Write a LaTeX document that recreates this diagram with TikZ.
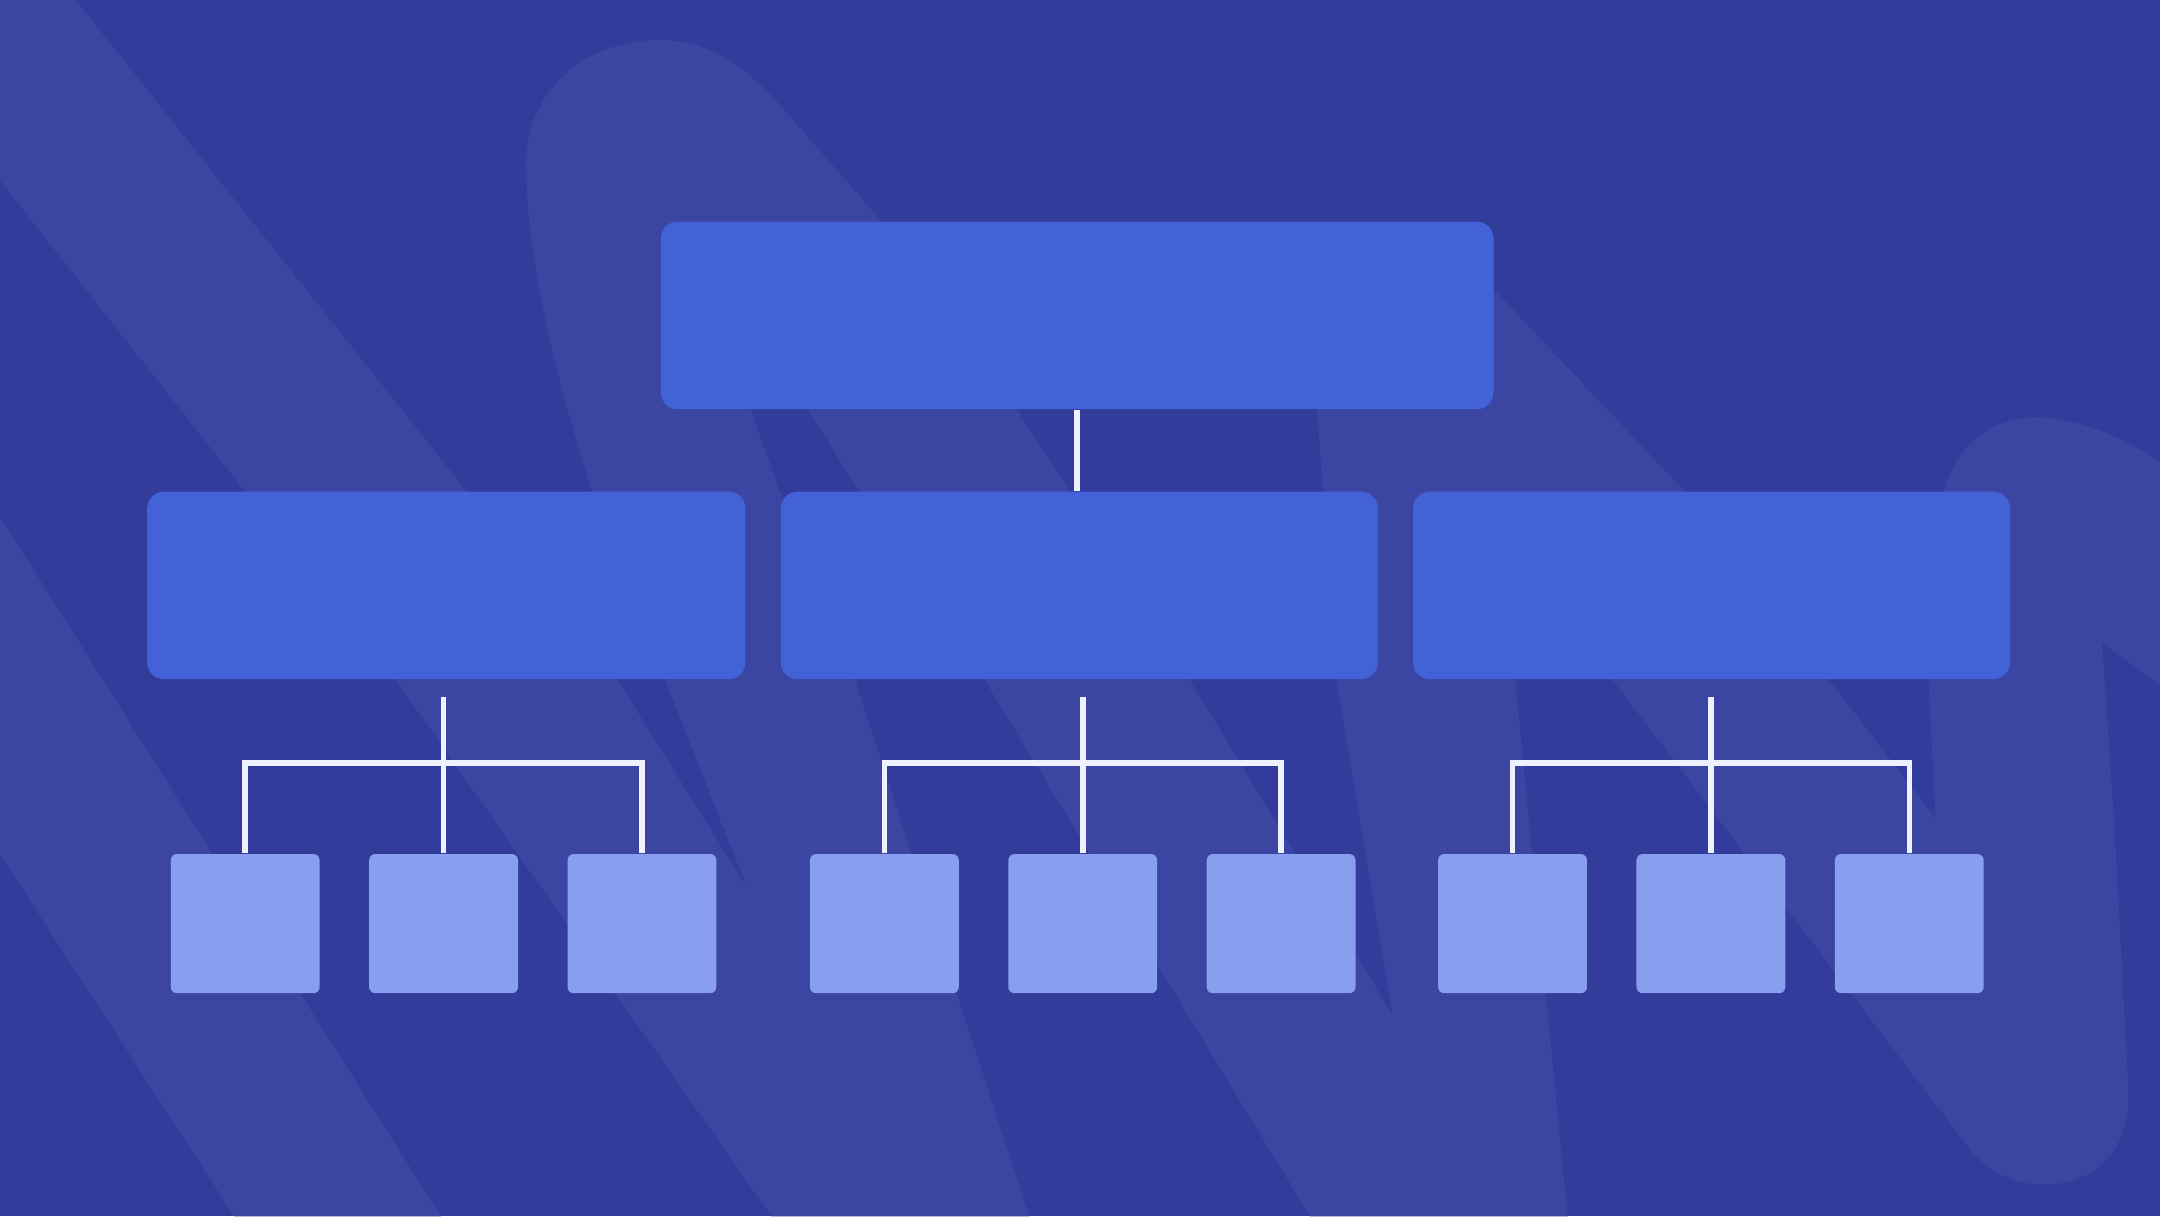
\documentclass[tikz,border=0pt]{standalone}
\definecolor{bg}{HTML}{313C9B}
\definecolor{swoosh}{HTML}{3A46A1}
\definecolor{boxblue}{HTML}{4462D7}
\definecolor{smallblue}{HTML}{889EEF}
\definecolor{linewhite}{HTML}{F0F1FE}
\tikzset{
  bigbox/.style={fill=boxblue, draw=none, rounded corners=0.12cm, inner sep=0pt, minimum height=1.36cm},
  smallbox/.style={fill=smallblue, draw=none, rounded corners=0.045cm, inner sep=0pt, minimum width=1.08cm, minimum height=1.01cm},
  conn/.style={draw=linewhite, line width=0.04cm, line join=miter},
}
\begin{document}
\begin{tikzpicture}[x=0.01cm,y=-0.01cm]
\fill[bg] (0,0) rectangle (1568,883);
\useasboundingbox (0,0) rectangle (1568,883);
\begin{scope}
\clip (0,0) rectangle (1568,883);
% far-left stroke
\fill[swoosh] (0,375) -- (320,883) -- (170,883) -- (0,620) -- cycle;
% main zigzag stroke
\fill[swoosh] (0,0) -- (55,0) -- (339,357) -- (448,493) -- (542,644)
  -- (483,494) -- (430,357)
  .. controls (402,270) and (382,185) .. (382,120)
  .. controls (382,62) and (428,29) .. (479,29)
  .. controls (515,29) and (540,48) .. (566,76)
  -- (642,163) -- (738,297) -- (777,357) -- (864,494) -- (1011,737)
  -- (970,494) -- (956,297) -- (958,230)
  .. controls (962,190) and (990,175) .. (1010,175)
  .. controls (1040,175) and (1060,185) .. (1075,200)
  -- (1223,357) -- (1328,494) -- (1405,594)
  -- (1400,494) -- (1411,357)
  .. controls (1420,320) and (1450,303) .. (1478,303)
  .. controls (1510,303) and (1545,320) .. (1568,335)
  -- (1568,497) -- (1526,467) -- (1535,600) -- (1545,790)
  .. controls (1548,840) and (1515,860) .. (1484,860)
  .. controls (1460,860) and (1445,850) .. (1432,837)
  -- (1171,494) -- (1095,400) -- (1100,494) -- (1138,883)
  -- (951,883) -- (715,494) -- (624,357) -- (586,297) -- (525,205)
  -- (545,297) -- (566,357) -- (621,494) -- (747,883)
  -- (560,883) -- (287,493) -- (178,357) -- (0,131) -- cycle;
\end{scope}

% top level
\node[bigbox, minimum width=6.04cm] (top) at (782,229) {};
% middle level
\node[bigbox, minimum width=4.34cm] (m1) at (324,425) {};
\node[bigbox, minimum width=4.33cm] (m2) at (783.5,425) {};
\node[bigbox, minimum width=4.33cm] (m3) at (1242.5,425) {};
% bottom level
\node[smallbox] (s11) at (178,670.5) {};
\node[smallbox] (s12) at (322,670.5) {};
\node[smallbox] (s13) at (466,670.5) {};
\node[smallbox] (s21) at (642,670.5) {};
\node[smallbox] (s22) at (786,670.5) {};
\node[smallbox] (s23) at (930,670.5) {};
\node[smallbox] (s31) at (1098,670.5) {};
\node[smallbox] (s32) at (1242,670.5) {};
\node[smallbox] (s33) at (1386,670.5) {};

% connectors
\coordinate (bar) at (0,554);
\draw[conn] (top.south) -- (top.south |- m2.north);
\foreach \g in {1,2,3}{
  \path ([yshift=-0.12cm]m\g.south) coordinate (stub\g);
  \draw[conn] (stub\g -| s\g2.north) -- (s\g2.north);
  \draw[conn] (s\g1.north) -- (s\g1.north |- bar) -- (s\g3.north |- bar) -- (s\g3.north);
}
\end{tikzpicture}
\end{document}
